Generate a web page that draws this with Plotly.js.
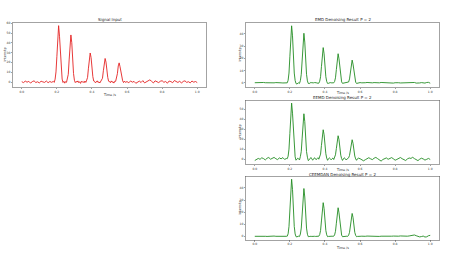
<!DOCTYPE html>
<html>
<head>
<meta charset="utf-8">
<script src="https://cdn.plot.ly/plotly-3.0.1.min.js"></script>
<style>html,body{margin:0;padding:0;background:#fff;}#chart{width:474px;height:257px;}</style>
</head>
<body>
<div id="chart"></div>
<script>
// Time axis (s)
const time = [
  0,0.01,0.02,0.03,0.04,0.05,0.06,0.07,0.08,0.09,0.1,0.11,0.12,0.13,0.14,0.15,0.16,0.17,0.18,
  0.185,0.19,0.195,0.2,0.205,0.21,0.215,0.22,0.225,0.23,
  0.235,0.24,0.245,0.25,0.255,0.26,0.265,0.27,0.275,0.28,
  0.285,0.29,0.295,0.3,0.305,0.31,0.315,0.32,0.325,0.33,
  0.335,0.34,0.345,0.35,0.355,0.36,0.365,0.37,0.375,0.38,
  0.385,0.39,0.395,0.4,0.405,0.41,0.415,0.42,0.425,0.43,
  0.435,0.44,0.445,0.45,0.455,0.46,0.465,0.47,0.475,0.48,
  0.485,0.49,0.495,0.5,0.505,0.51,0.515,0.52,0.525,0.53,
  0.535,0.54,0.545,0.55,0.555,0.56,0.565,0.57,0.575,0.58,
  0.585,0.59,
  0.6,0.61,0.62,0.63,0.64,0.65,0.66,0.67,0.68,0.69,0.7,0.71,0.72,0.73,0.74,0.75,0.76,0.77,0.78,0.79,
  0.8,0.81,0.82,0.83,0.84,0.85,0.86,0.87,0.88,0.89,0.9,0.91,0.92,0.93,0.94,0.95,0.96,0.97,0.98,0.99,1.0
];

const signalInput = [
  0.3,-0.6,0.9,-0.2,0.7,-1.1,0.4,1.2,-0.5,0.2,-0.9,0.8,0.1,-0.4,1.0,-0.7,0.5,-0.3,0.6,
  -0.4,2.9,10.3,25.8,47.8,57.5,46.7,26.9,9.5,3.0,
  -0.5,0.7,-1.2,0.4,-0.3,2.9,7.8,22.5,39.1,48.0,
  40.1,21.6,8.7,1.8,-0.6,0.6,-0.2,1.1,-0.7,0.3,
  -1.4,0.8,-0.1,0.5,-0.8,1.0,-0.4,1.9,4.7,14.1,
  24.0,29.6,24.9,13.2,5.5,1.0,0.7,-0.9,0.4,1.2,
  -0.5,0.2,-1.0,0.6,1.6,3.8,11.5,19.4,24.0,20.3,
  10.6,4.6,0.8,0.5,-0.7,1.1,-0.3,0.4,-1.1,0.8,
  0.7,3.8,8.5,16.4,19.5,15.6,9.3,3.0,1.2,-0.6,
  0.9,-0.3,
  0.4,-0.8,1.1,-0.2,0.6,-1.3,0.3,0.9,-0.5,1.4,-0.9,0.2,1.6,2.2,0.7,-1.0,1.2,0.1,-0.6,0.8,
  1.3,-0.3,0.5,-1.2,1.0,0.4,-0.7,1.5,0.2,-0.5,0.9,-1.1,0.6,1.2,-0.4,0.3,-0.9,1.0,-0.2,0.5,-0.6
];

const emdResult = [
  0.1,0.2,0.0,-0.1,0.2,0.3,0.1,0.0,0.2,0.1,-0.1,0.0,0.2,0.3,0.1,0.0,-0.1,0.1,0.2,
  0.0,2.1,8.0,21.3,38.4,46.6,38.4,21.3,8.0,2.0,
  -0.6,-0.9,-0.3,0.0,-0.4,1.8,7.0,18.5,33.3,40.5,
  33.3,18.5,7.0,1.6,-0.5,-0.6,0.1,0.3,0.1,-0.1,
  0.0,0.2,0.3,0.1,-0.2,0.0,-0.3,1.3,5.0,13.2,
  23.7,28.8,23.7,13.2,5.0,1.1,-0.5,-0.4,0.1,0.2,
  0.0,-0.1,0.1,0.0,1.1,4.1,10.9,19.6,23.8,19.6,
  10.9,4.1,0.8,-0.4,-0.3,0.2,0.1,-0.1,0.0,0.1,
  0.7,3.2,8.5,15.3,18.6,15.3,8.5,3.2,0.6,-0.5,
  -0.2,0.1,
  0.2,0.0,-0.2,0.1,0.3,0.1,-0.1,0.0,0.2,0.1,-0.2,0.0,0.3,0.2,0.0,-0.1,0.1,0.2,0.0,-0.2,
  0.1,0.3,0.1,-0.1,0.0,0.2,0.1,-0.1,0.1,0.4,0.8,0.3,-0.2,-0.4,-0.1,0.2,-0.3,-0.2,0.3,0.4,-0.3
];

const eemdResult = [
  -1.5,-0.8,0.6,-0.3,1.2,0.4,-0.9,0.8,1.5,-0.2,0.9,1.6,0.3,-0.6,1.1,0.2,1.4,-0.4,0.5,
  0.3,2.8,9.9,25.4,46.3,56.0,45.9,26.0,9.4,2.2,
  -1.2,-0.5,0.8,0.2,-0.9,2.5,7.6,20.9,37.1,45.3,
  37.5,20.5,7.5,1.8,-1.6,-0.8,0.9,1.5,0.2,-1.1,
  -0.3,1.2,0.6,-0.7,0.4,1.3,-0.2,1.6,4.9,13.6,
  24.0,29.3,24.3,13.1,5.3,0.9,-1.3,0.3,1.1,0.4,
  -0.8,0.2,1.0,-0.5,1.2,4.2,10.6,19.2,23.3,19.4,
  10.3,3.8,0.5,-1.4,0.1,1.2,0.5,-0.9,-0.2,0.8,
  1.2,3.6,8.6,16.0,19.3,15.7,8.3,3.0,0.1,-1.3,
  0.2,0.9,
  0.3,-0.9,-1.8,-0.7,0.6,1.3,0.2,-0.6,0.8,1.6,0.4,-1.0,-2.1,-0.5,0.7,1.1,-0.3,0.5,1.4,0.2,
  -1.2,-0.4,0.9,1.5,0.3,-0.8,-1.5,0.1,1.0,0.6,1.7,0.4,-0.9,-1.6,-0.2,0.8,0.1,-1.1,-0.3,0.6,-0.5
];

const ceemdanResult = [
  0.0,0.1,0.0,-0.1,0.1,0.2,0.0,-0.1,0.1,0.0,0.1,0.2,0.0,-0.1,0.1,0.0,0.1,-0.1,0.0,
  0.1,2.1,8.1,21.6,38.8,47.2,38.8,21.6,8.1,2.0,
  -0.3,-0.4,0.0,0.1,-0.1,1.9,6.8,18.1,32.5,39.5,
  32.5,18.1,6.8,1.7,-0.3,-0.2,0.1,0.0,-0.1,0.1,
  0.2,0.0,-0.1,0.1,0.0,-0.1,0.1,1.4,4.8,12.7,
  22.9,27.8,22.9,12.7,4.8,1.2,-0.3,-0.1,0.1,0.0,
  -0.1,0.1,0.0,0.1,1.2,4.1,10.8,19.4,23.6,19.4,
  10.8,4.1,1.0,-0.3,-0.1,0.1,0.0,-0.1,0.1,0.0,
  0.9,3.3,8.7,15.6,18.9,15.6,8.7,3.3,0.8,-0.3,
  -0.1,0.1,
  0.0,0.1,-0.1,0.0,0.2,0.1,0.0,-0.1,0.1,0.2,0.0,-0.1,0.1,0.0,0.2,0.1,-0.1,0.0,0.1,0.2,
  0.0,-0.1,0.1,0.3,0.1,0.0,-0.2,0.1,0.3,0.6,0.9,1.1,0.5,-0.3,-0.5,-0.2,0.2,-0.6,-0.4,0.5,0.8
];

const xTicks = [0.0, 0.2, 0.4, 0.6, 0.8, 1.0];
const panelTitles = ['Signal Input', 'EMD Denoising Result P = 2', 'EEMD Denoising Result P = 2', 'CEEMDAN Denoising Result P = 2'];
const xLabel = 'Time /s';
const yLabel = 'Intensity';

[signalInput, emdResult, eemdResult, ceemdanResult].forEach((a, i) => {
  if (a.length !== time.length) console.error('length mismatch', i, a.length, time.length);
});

const W = 474, H = 257;
const px = v => v / W;
const py = v => 1 - v / H;

const FONT = 'DejaVu Sans';
const red = 'rgb(228,35,35)';
const green = 'rgb(35,140,35)';

const traces = [
  {x: time, y: signalInput, xaxis: 'x', yaxis: 'y', type: 'scatter', mode: 'lines', line: {color: red, width: 0.9}},
  {x: time, y: emdResult, xaxis: 'x2', yaxis: 'y2', type: 'scatter', mode: 'lines', line: {color: green, width: 0.9}},
  {x: time, y: eemdResult, xaxis: 'x3', yaxis: 'y3', type: 'scatter', mode: 'lines', line: {color: green, width: 0.9}},
  {x: time, y: ceemdanResult, xaxis: 'x4', yaxis: 'y4', type: 'scatter', mode: 'lines', line: {color: green, width: 0.9}}
];

function xa(domain, anchor) {
  return {domain: domain, anchor: anchor, range: [-0.05, 1.05], tickvals: xTicks, tickformat: '.1f',
    showgrid: false, zeroline: false, showline: true, mirror: true, linecolor: '#666', linewidth: 0.6,
    ticks: 'outside', ticklen: 1.5, tickwidth: 0.5, tickcolor: '#444',
    tickfont: {family: FONT, size: 3, color: '#333'}};
}
function ya(domain, anchor, range) {
  return {domain: domain, anchor: anchor, range: range, dtick: 10, tick0: 0,
    showgrid: false, zeroline: false, showline: true, mirror: true, linecolor: '#666', linewidth: 0.6,
    ticks: 'outside', ticklen: 1.5, tickwidth: 0.5, tickcolor: '#444',
    tickfont: {family: FONT, size: 3, color: '#333'}};
}

const leftX = [px(13), px(206)];
const rightX = [px(246), px(439)];
const row1 = [py(87), py(23)];
const row2 = [py(164), py(100.3)];
const row3 = [py(239.7), py(176.3)];

function ann(text, x, y, size, angle) {
  return {text: text, xref: 'paper', yref: 'paper', x: px(x), y: py(y), xanchor: 'center', yanchor: 'middle',
    showarrow: false, textangle: angle || 0, font: {family: FONT, size: size, color: '#222'}};
}

const layout = {
  width: W, height: H,
  margin: {l: 0, r: 0, t: 0, b: 0},
  paper_bgcolor: '#fff', plot_bgcolor: '#fff',
  showlegend: false,
  xaxis: xa(leftX, 'y'), yaxis: ya(row1, 'x', [-5.1, 60.2]),
  xaxis2: xa(rightX, 'y2'), yaxis2: ya(row1, 'x2', [-3.4, 48.9]),
  xaxis3: xa(rightX, 'y3'), yaxis3: ya(row2, 'x3', [-5.0, 58.8]),
  xaxis4: xa(rightX, 'y4'), yaxis4: ya(row3, 'x4', [-2.8, 49.6]),
  annotations: [
    ann(panelTitles[0], 109.5, 20, 4),
    ann(panelTitles[1], 342.5, 20, 4),
    ann(panelTitles[2], 342.5, 97.3, 4),
    ann(panelTitles[3], 342.5, 174.3, 4),
    ann(xLabel, 109.5, 95, 3.3),
    ann(xLabel, 342.5, 93, 3.3),
    ann(xLabel, 342.5, 170.4, 3.3),
    ann(xLabel, 342.5, 247.5, 3.3),
    ann(yLabel, 4.5, 55, 3.3, -90),
    ann(yLabel, 239.5, 55, 3.3, -90),
    ann(yLabel, 239.5, 132, 3.3, -90),
    ann(yLabel, 239.5, 208, 3.3, -90)
  ]
};

Plotly.newPlot('chart', traces, layout, {staticPlot: true, displayModeBar: false});
</script>
</body>
</html>
